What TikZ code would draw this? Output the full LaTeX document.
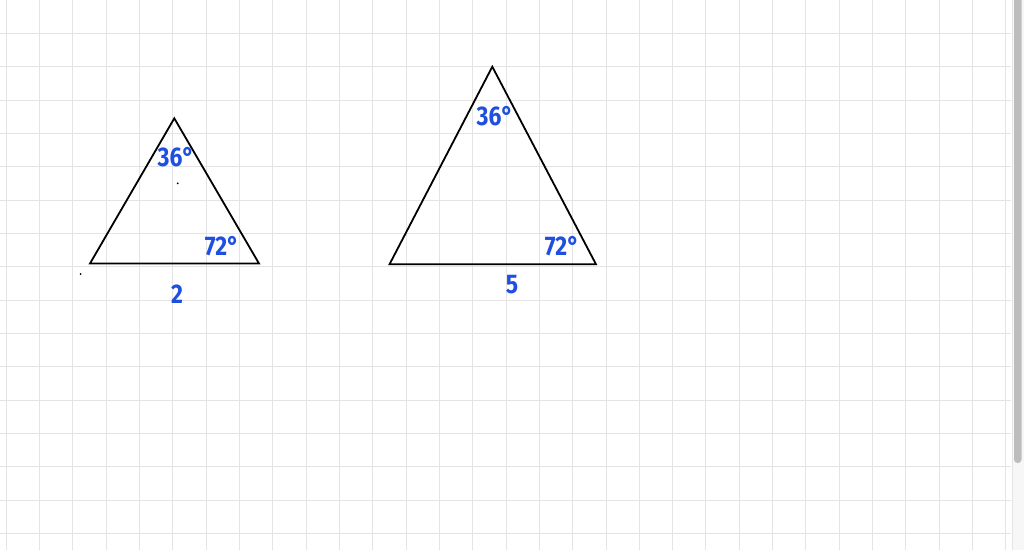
\documentclass[tikz,border=0pt]{standalone}
\usepackage{fontspec}
\usepackage{graphicx}
\setmainfont{Fira Sans}
\definecolor{gridc}{HTML}{E4E4E4}
\definecolor{ink}{HTML}{1F4FE0}
\definecolor{stripc}{HTML}{F7F7F7}
\definecolor{barc}{HTML}{BDBDBD}
\newcommand{\hw}[1]{\scalebox{0.85}[1]{#1}}
\tikzset{
  gridline/.style={draw=gridc, line width=0.9pt},
  tri/.style={draw=black, line width=1.8pt, line join=miter},
  lbl/.style={text=ink, font=\fontsize{27}{27}\selectfont\bfseries, inner sep=0pt, anchor=center},
  speck/.style={fill=black, draw=none},
}
\begin{document}
\begin{tikzpicture}[x=1pt,y=-1pt]
\useasboundingbox (0,0) rectangle (1024,550);
\fill[white] (0,0) rectangle (1024,550);
% grid
\foreach \k in {0,...,30} {\draw[gridline] ({6+33.33*\k},0) -- ({6+33.33*\k},550);}
\foreach \k in {1,...,16} {\draw[gridline] (0,{33.33*\k}) -- (1011,{33.33*\k});}
% right strip and scrollbar
\fill[stripc] (1012,0) rectangle (1024,550);
\draw[draw=gridc, line width=0.8pt] (1012,0) -- (1012,550);
\fill[barc, rounded corners=3.5pt] (1014,-5) rectangle (1021.5,463);
% triangle 1
\coordinate (a1) at (174.3,118.3);
\coordinate (b1) at (90,263.5);
\coordinate (c1) at (259,263.5);
\draw[tri] (a1) -- (c1) -- (b1) -- cycle;
\node[lbl] (t1top) at (176,157) {\hw{36°}};
\node[lbl] (t1right) at (222,246) {\hw{72°}};
\node[lbl] (t1base) at (177,294) {\hw{2}};
\fill[speck] (177.7,183.3) circle (1pt);
\fill[speck] (80.7,274) circle (1pt);
% triangle 2
\coordinate (a2) at (492.3,66.7);
\coordinate (b2) at (389.5,264.3);
\coordinate (c2) at (596,264.3);
\draw[tri] (a2) -- (c2) -- (b2) -- cycle;
\node[lbl] (t2top) at (495,116) {\hw{36°}};
\node[lbl] (t2right) at (562,246) {\hw{72°}};
\node[lbl] (t2base) at (512,285) {\hw{5}};
\end{tikzpicture}
\end{document}
